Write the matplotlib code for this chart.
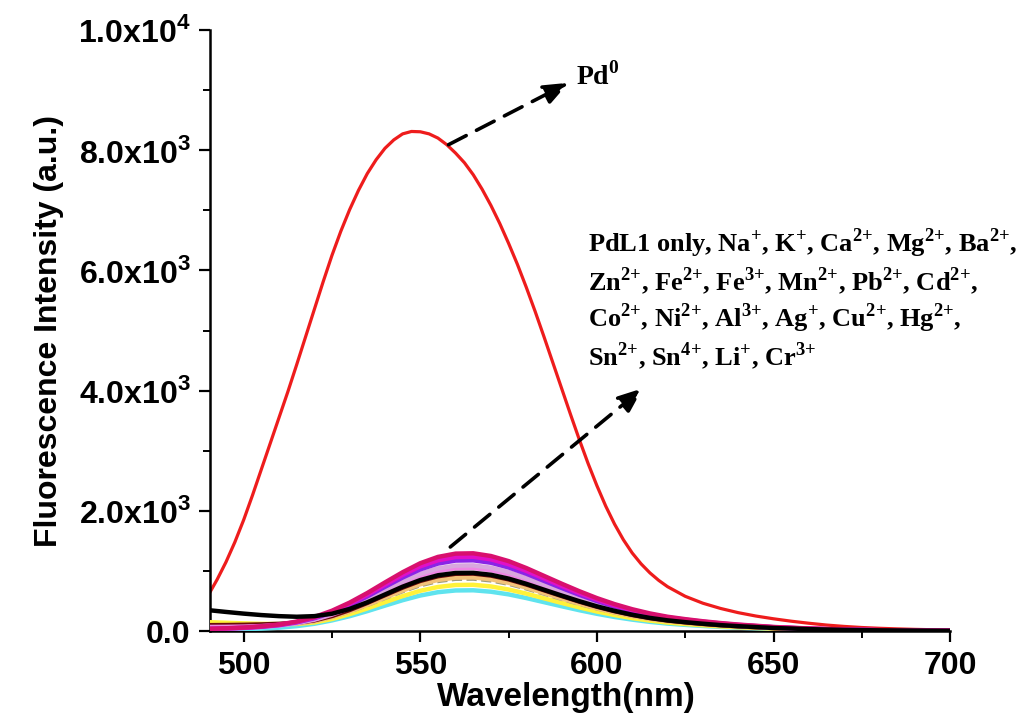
import numpy as np
import matplotlib.pyplot as plt
from matplotlib.ticker import MultipleLocator

plt.rcParams['mathtext.fontset'] = 'custom'
plt.rcParams['mathtext.rm'] = 'Liberation Serif:bold'
plt.rcParams['mathtext.bf'] = 'Liberation Sans:bold'

# Pd0 spectrum
WL_RED = [490, 492.5, 495, 497.5, 500, 502.5, 505, 507.5, 510, 512.5,
          515, 517.5, 520, 522.5, 525, 527.5, 530, 532.5, 535, 537.5,
          540, 542.5, 545, 547.5, 550, 552.5, 555, 557.5, 560, 562.5,
          565, 567.5, 570, 572.5, 575, 577.5, 580, 582.5, 585, 587.5,
          590, 592.5, 595, 597.5, 600, 602.5, 605, 607.5, 610, 612.5,
          615, 617.5, 620, 625, 630, 635, 640, 645, 650, 655,
          660, 665, 670, 675, 680, 685, 690, 695, 700]
RED = [600, 860, 1150, 1480, 1850, 2260, 2690, 3120, 3550, 3980,
       4430, 4890, 5350, 5810, 6250, 6650, 7010, 7330, 7610, 7840,
       8030, 8170, 8270, 8310, 8305, 8270, 8200, 8090, 7950, 7790,
       7590, 7350, 7080, 6780, 6450, 6100, 5720, 5320, 4900, 4470,
       4040, 3610, 3190, 2790, 2420, 2080, 1780, 1520, 1300, 1120,
       970, 845, 740, 580, 465, 378, 308, 252, 206, 166,
       132, 102, 79, 61, 48, 38, 30, 24, 19]

# the other ions (and PdL1 alone)
WL = [490, 495, 500, 505, 510, 515, 520, 525, 530, 535, 540, 545, 550,
      555, 560, 565, 570, 575, 580, 585, 590, 595, 600, 605, 610, 615,
      620, 625, 630, 635, 640, 650, 660, 670, 680, 690, 700]
CRIMSON = [40, 48, 60, 80, 110, 160, 235, 340, 475, 635, 810, 980, 1130,
           1235, 1290, 1295, 1250, 1165, 1050, 920, 790, 665, 550, 450, 365,
           295, 240, 200, 165, 135, 110, 70, 45, 28, 18, 12, 8]
MAGENTA = [38, 46, 57, 76, 105, 153, 224, 325, 454, 606, 774, 936, 1079,
           1179, 1232, 1237, 1194, 1113, 1003, 879, 754, 635, 525, 430, 349,
           282, 229, 191, 158, 129, 105, 67, 43, 27, 17, 11, 8]
PURPLE = [36, 44, 55, 73, 100, 146, 214, 309, 432, 578, 737, 892, 1028,
          1124, 1174, 1178, 1138, 1060, 956, 837, 719, 605, 501, 410, 332,
          268, 218, 182, 150, 123, 100, 64, 41, 25, 16, 11, 7]
LILAC = [34, 41, 51, 68, 93, 135, 199, 287, 401, 537, 684, 828, 955,
         1044, 1090, 1094, 1056, 984, 887, 777, 668, 562, 465, 380, 308,
         249, 203, 169, 139, 114, 93, 59, 38, 24, 15, 10, 7]
PINK = [70, 72, 76, 85, 102, 135, 190, 275, 385, 514, 656, 794, 915,
        1000, 1045, 1049, 1013, 944, 851, 745, 640, 539, 446, 365, 296,
        239, 194, 162, 134, 109, 89, 57, 36, 23, 15, 10, 6]
BLACK = [350, 320, 292, 268, 250, 240, 250, 290, 370, 480, 610, 740, 850,
         930, 968, 970, 938, 874, 788, 690, 593, 499, 413, 338, 274,
         221, 180, 150, 124, 101, 83, 53, 34, 21, 14, 9, 6]
DARKRED = [100, 102, 106, 112, 122, 140, 180, 252, 352, 470, 599, 725, 836,
           914, 955, 958, 925, 862, 777, 681, 585, 492, 407, 333, 270,
           218, 178, 148, 122, 100, 81, 52, 33, 21, 13, 9, 6]
ORANGE = [90, 92, 95, 100, 110, 128, 165, 235, 328, 438, 559, 676, 780,
          852, 890, 894, 863, 804, 725, 635, 545, 459, 380, 311, 252,
          204, 166, 138, 114, 93, 76, 48, 31, 19, 12, 8, 6]
GRAY = [80, 82, 85, 90, 100, 118, 157, 226, 316, 422, 539, 652, 751,
        821, 858, 861, 831, 775, 698, 612, 525, 442, 366, 299, 243,
        196, 160, 133, 110, 90, 73, 47, 30, 19, 12, 8, 5]
YELLOW = [150, 140, 130, 122, 118, 120, 145, 202, 283, 378, 482, 583, 672,
          735, 768, 771, 744, 693, 625, 547, 470, 396, 327, 268, 217,
          176, 143, 119, 98, 80, 65, 42, 27, 17, 11, 7, 5]
CYAN = [30, 32, 35, 42, 58, 84, 123, 179, 249, 333, 425, 515, 593,
        648, 677, 680, 656, 612, 551, 483, 415, 349, 289, 236, 192,
        155, 126, 105, 87, 71, 58, 37, 24, 15, 9, 6, 4]

SMALL = [
    (CYAN, "#5FE3EE", "-"),
    (YELLOW, "#FFF23A", "-"),
    (GRAY, "#9A9A7A", "--"),
    (ORANGE, "#F2C27A", "-"),
    (DARKRED, "#6A0A0A", "-"),
    (PINK, "#EE86E4", "-"),
    (LILAC, "#D9A6DE", "-"),
    (PURPLE, "#8A24E6", "-"),
    (MAGENTA, "#E010C8", "-"),
    (CRIMSON, "#D8106E", "-"),
    (BLACK, "#000000", "-"),
]

YTICKS = [0, 2000, 4000, 6000, 8000, 10000]
YTICKLABELS = ["0.0", r"2.0x10$^{\mathbf{3}}$", r"4.0x10$^{\mathbf{3}}$",
               r"6.0x10$^{\mathbf{3}}$", r"8.0x10$^{\mathbf{3}}$",
               r"1.0x10$^{\mathbf{4}}$"]

fig = plt.figure(figsize=(10.35, 7.28), dpi=100)
ax = fig.add_axes([0.203, 0.133, 0.715, 0.826])

ax.plot(WL_RED, RED, color="#EE1C1C", lw=2.3, zorder=2)
for vals, col, ls in SMALL:
    lw = 2.0 if ls == "--" else 3.2
    ax.plot(WL, vals, color=col, lw=lw, ls=ls, zorder=3)

ax.set_xlim(490.5, 700)
ax.set_ylim(0, 10000)
ax.xaxis.set_major_locator(MultipleLocator(50))
ax.xaxis.set_minor_locator(MultipleLocator(25))
ax.set_yticks(YTICKS)
ax.set_yticklabels(YTICKLABELS)
ax.yaxis.set_minor_locator(MultipleLocator(1000))

for s in ["top", "right"]:
    ax.spines[s].set_visible(False)
for s in ["left", "bottom"]:
    ax.spines[s].set_linewidth(1.8)
ax.tick_params(which="major", direction="out", length=8, width=1.6,
               labelsize=23, pad=6)
ax.tick_params(which="minor", direction="out", length=5, width=1.4)
for lab in ax.get_xticklabels() + ax.get_yticklabels():
    lab.set_fontweight("bold")
    lab.set_fontfamily("Liberation Sans")

ax.set_xlabel("Wavelength(nm)", fontsize=24, fontweight="bold",
              family="Liberation Sans")
ax.xaxis.set_label_coords(0.481, -0.085)
ax.set_ylabel("Fluorescence Intensity (a.u.)", fontsize=23,
              fontweight="bold", family="Liberation Sans", labelpad=10)

# arrows
arrow_kw = dict(arrowstyle="-|>,head_length=1.5,head_width=0.6",
                color="black", lw=2.6, linestyle=(0, (5.5, 3.2)),
                shrinkA=0, shrinkB=0)
ax.annotate("", xy=(592, 9120), xytext=(558, 8090), arrowprops=arrow_kw,
            zorder=5)
ax.annotate("", xy=(613, 4040), xytext=(558.5, 1400), arrowprops=arrow_kw,
            zorder=5)

serif = dict(family="Liberation Serif", fontweight="bold", color="black")
ax.text(594, 9220, r"Pd$^{0}$", fontsize=20, va="center",
        ha="left", **serif)

LINES = [
    r"PdL1 only, Na$^{{+}}$, K$^{{+}}$, Ca$^{2{+}}$, Mg$^{2{+}}$, Ba$^{2{+}}$,",
    r"Zn$^{2{+}}$, Fe$^{2{+}}$, Fe$^{3{+}}$, Mn$^{2{+}}$, Pb$^{2{+}}$, Cd$^{2{+}}$,",
    r"Co$^{2{+}}$, Ni$^{2{+}}$, Al$^{3{+}}$, Ag$^{{+}}$, Cu$^{2{+}}$, Hg$^{2{+}}$,",
    r"Sn$^{2{+}}$, Sn$^{4{+}}$, Li$^{{+}}$, Cr$^{3{+}}$",
]
for i, line in enumerate(LINES):
    ax.text(597.5, 6450 - i * 625, line, fontsize=19, va="center",
            ha="left", **serif)

fig.savefig("out.png", dpi=100, facecolor="white")
